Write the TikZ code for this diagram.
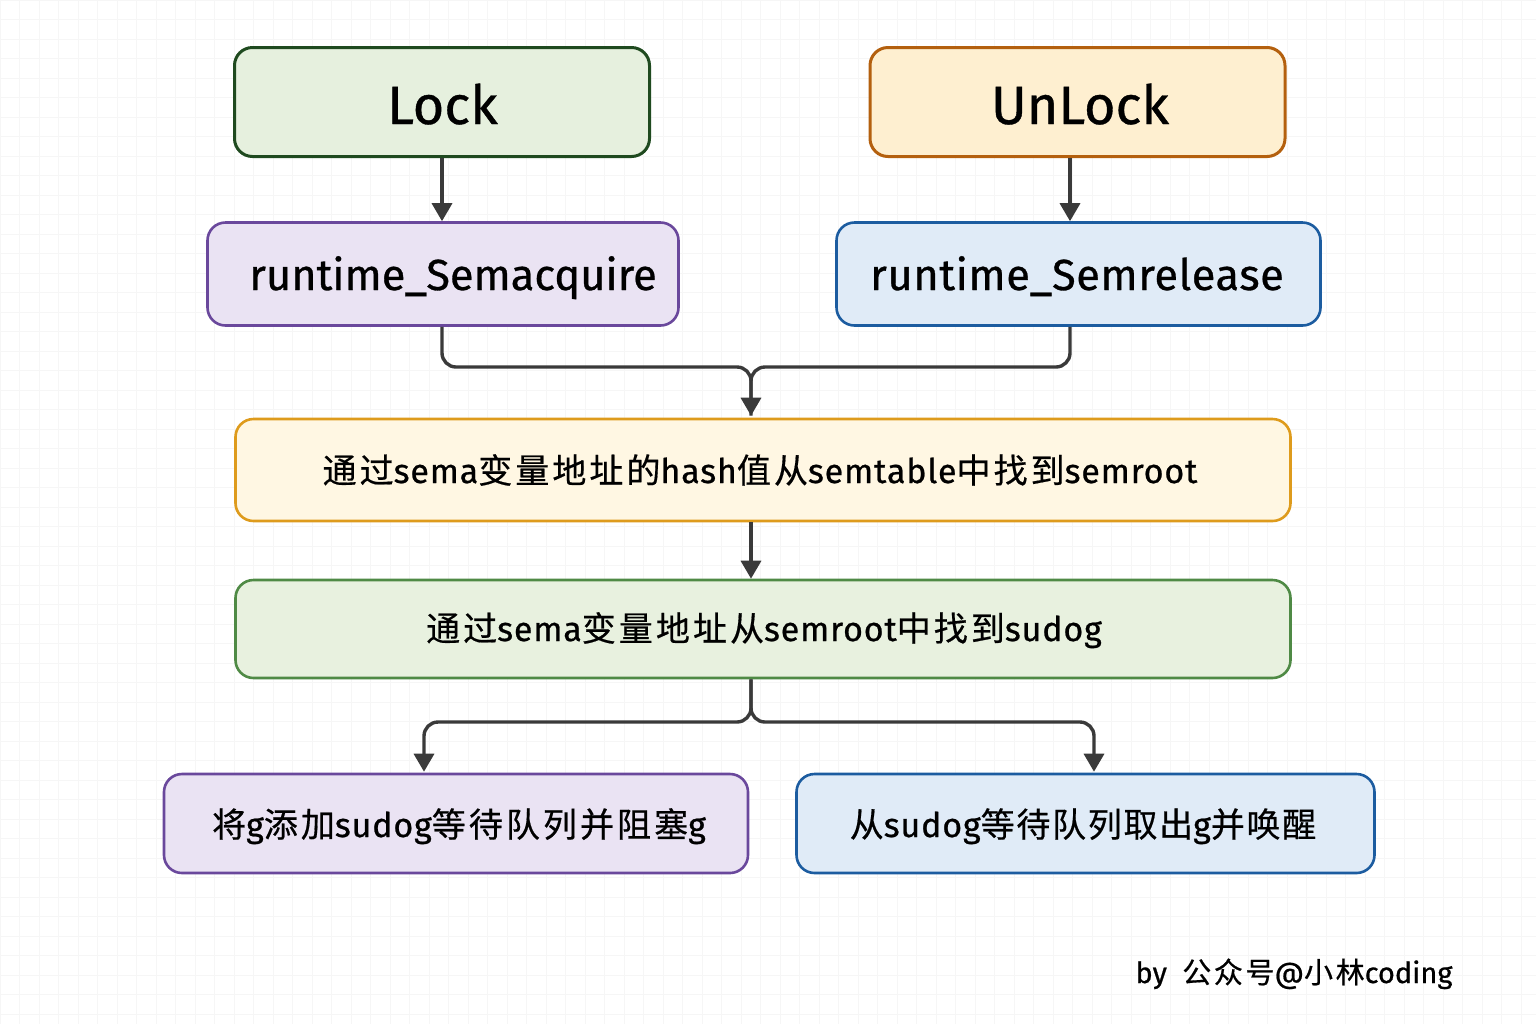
\documentclass[tikz,border=0pt]{standalone}
\usepackage{fontspec}
\usetikzlibrary{arrows.meta}
\setmainfont[RawFeature={embolden=0.7}]{Fira Sans}
\newfontfamily\latrel[LetterSpace=1.4,RawFeature={embolden=0.7}]{Fira Sans}
\newfontfamily\latsp[LetterSpace=2.5,RawFeature={embolden=0.7}]{Fira Sans}
\newfontfamily\cjk[LetterSpace=9,RawFeature={embolden=0.5}]{Noto Sans CJK SC}
\newfontfamily\cjktight[LetterSpace=5,RawFeature={embolden=0.5}]{Noto Sans CJK SC}
\newcommand{\zh}[1]{{\cjk #1}}
\newcommand{\zt}[1]{{\cjktight #1}}
\definecolor{gridc}{HTML}{F6F6F6}
\definecolor{linec}{HTML}{3A3A3A}
\definecolor{gfa}{HTML}{E6F0DE}\definecolor{gda}{HTML}{1F4A1F}
\definecolor{ofa}{HTML}{FEEFD0}\definecolor{oda}{HTML}{B4600E}
\definecolor{pfa}{HTML}{EAE3F3}\definecolor{pda}{HTML}{6A489C}
\definecolor{bfa}{HTML}{E0EBF7}\definecolor{bda}{HTML}{1C5CA0}
\definecolor{yfb}{HTML}{FFF7E3}\definecolor{ydb}{HTML}{DE9B1C}
\definecolor{gfb}{HTML}{E8F1DF}\definecolor{gdb}{HTML}{4F8A45}
\tikzset{
  x=0.5pt,y=-0.5pt,
  boxbase/.style={draw,rounded corners=9pt,inner sep=0pt,text=black,anchor=center},
  greenA/.style={boxbase,fill=gfa,draw=gda,line width=1.5pt,minimum width=207.5pt,minimum height=54.5pt},
  orangeA/.style={boxbase,fill=ofa,draw=oda,line width=1.5pt,minimum width=207.5pt,minimum height=54.5pt},
  purpleA/.style={boxbase,fill=pfa,draw=pda,line width=1.3pt,minimum width=235.5pt,minimum height=51.5pt},
  blueA/.style={boxbase,fill=bfa,draw=bda,line width=1.3pt,minimum width=242pt,minimum height=51.5pt},
  yellowB/.style={boxbase,fill=yfb,draw=ydb,line width=1.3pt,minimum width=527.5pt,minimum height=51pt},
  greenB/.style={boxbase,fill=gfb,draw=gdb,line width=1.3pt,minimum width=527.5pt,minimum height=49pt},
  purpleB/.style={boxbase,fill=pfa,draw=pda,line width=1.3pt,minimum width=292pt,minimum height=49.5pt},
  blueB/.style={boxbase,fill=bfa,draw=bda,line width=1.3pt,minimum width=289pt,minimum height=49.5pt},
  conn/.style={draw=linec,line width=1.7pt,rounded corners=7pt},
  arr/.style={conn,-{Triangle[width=10pt,length=9pt]}},
  label/.style={anchor=base,inner sep=0pt,text=black},
  big/.style={label,font=\fontsize{27}{30}\selectfont},
  mid/.style={label,font=\fontsize{21.7}{26}\selectfont},
  midrel/.style={label,font=\fontsize{21.7}{26}\selectfont\latrel},
  small/.style={label,font=\fontsize{17}{22}\selectfont\latsp},
  tiny/.style={label,font=\fontsize{14.5}{18}\selectfont}
}
\begin{document}
\begin{tikzpicture}
\useasboundingbox (0,0) rectangle (1536,1024);
\fill[white] (0,0) rectangle (1536,1024);
\foreach \i in {0,...,78}{\draw[gridc,line width=0.4pt] (\i*19.5,0) -- (\i*19.5,1024);}
\foreach \i in {0,...,52}{\draw[gridc,line width=0.4pt] (0,\i*19.5) -- (1536,\i*19.5);}

\node[greenA] (lock) at (442,102) {};
\node[big] (locktxt) at (442.5,124) {Lock};
\node[orangeA] (unlock) at (1077.5,102) {};
\node[big] (unlocktxt) at (1080,124) {UnLock};
\node[purpleA] (acq) at (443,274) {};
\node[mid] (acqtxt) at (453,290) {runtime\_Semacquire};
\node[blueA] (rel) at (1078.5,274) {};
\node[midrel] (reltxt) at (1077,290) {runtime\_Semrelease};
\node[yellowB] (hash) at (763,470) {};
\node[small] (hashtxt) at (760,483) {\zh{通过}sema\zh{变量地址的}hash\zh{值从}semtable\zh{中找到}semroot};
\node[greenB] (find) at (763,629) {};
\node[small] (findtxt) at (764,641) {\zh{通过}sema\zh{变量地址从}semroot\zh{中找到}sudog};
\node[purpleB] (add) at (456,823.5) {};
\node[small] (addtxt) at (459,837) {\zh{将}g\zh{添加}sudog\zh{等待队列并阻塞}g};
\node[blueB] (wake) at (1085.5,823.5) {};
\node[small] (waketxt) at (1083,837) {\zt{从}sudog\zt{等待队列取出}g\zt{并唤醒}};
\node[tiny] (by) at (1294,983) {by\ \ \zh{公众号}@\zh{小林}coding};

\coordinate (ca) at (442,0);
\coordinate (cb) at (1070,0);
\coordinate (cm) at (751,0);
\coordinate (jt) at (751,367);
\coordinate (jb) at (751,722);
\coordinate (cl) at (424,0);
\coordinate (cr) at (1094,0);
\draw[arr] (ca |- lock.south) -- (ca |- acq.north);
\draw[arr] (cb |- unlock.south) -- (cb |- rel.north);
\draw[conn,shorten >=1pt] (ca |- acq.south) -- (ca |- jt) -- (jt) -- (cm |- hash.north);
\draw[arr,shorten >=1pt] (cb |- rel.south) -- (cb |- jt) -- (jt) -- (cm |- hash.north);
\draw[arr] (cm |- hash.south) -- (cm |- find.north);
\draw[arr,shorten >=0.5pt] (cm |- find.south) -- (jb) -- (cl |- jb) -- (cl |- add.north);
\draw[arr,shorten >=0.5pt] (cm |- find.south) -- (jb) -- (cr |- jb) -- (cr |- wake.north);
\end{tikzpicture}
\end{document}
